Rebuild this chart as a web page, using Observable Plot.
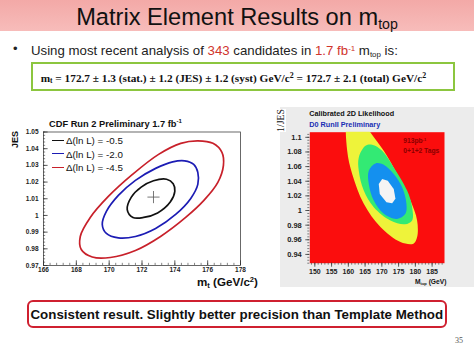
<!DOCTYPE html>
<html><head><meta charset="utf-8">
<script src="https://cdn.jsdelivr.net/npm/d3@7"></script>
<script src="https://cdn.jsdelivr.net/npm/@observablehq/plot@0.6"></script>
<style>
html,body{margin:0;padding:0;background:#fff;}
#slide{position:relative;width:474px;height:355px;overflow:hidden;background:#fff;font-family:"Liberation Sans",Arial,Helvetica,sans-serif;color:#111;}
#slide .t{position:absolute;white-space:nowrap;line-height:1;}
#slide .t sub,#slide .t sup{line-height:0;}
#slide .box{position:absolute;box-sizing:border-box;}
</style></head><body><div id="slide"></div>
<script>
// ---------- data: CDF (left) ----------
const cdfMtTicks = [166, 168, 170, 172, 174, 176, 178];
const cdfJesTicks = [0.97, 0.98, 0.99, 1, 1.01, 1.02, 1.03, 1.04, 1.05];
const cdfLevels = ["Δ(ln L) = -0.5", "Δ(ln L) = -2.0", "Δ(ln L) = -4.5"];
const cdfColors = ["#111111", "#1c1cb4", "#c8202a"];
const cdfBest = [172.7, 1.011];
const cdfContour05 = [[173.50,1.0217],[173.90,1.0190],[174.00,1.0145],[173.72,1.0080],[172.95,1.0015],[172.10,0.9988],[171.45,0.9988],[171.10,1.0035],[171.35,1.0110],[171.95,1.0170],[172.70,1.0208]];
const cdfContour20 = [[174.60,1.0327],[175.15,1.0306],[175.40,1.0258],[175.40,1.0186],[174.97,1.0102],[174.05,1.0006],[172.83,0.9922],[171.60,0.9874],[170.56,0.9865],[169.83,0.9892],[169.58,0.9946],[169.83,1.0024],[170.56,1.0120],[171.60,1.0210],[172.83,1.0282],[173.87,1.0321]];
const cdfContour45 = [[175.40,1.0447],[176.32,1.0432],[176.87,1.0378],[176.96,1.0300],[176.62,1.0198],[175.77,1.0090],[174.66,0.9988],[173.13,0.9874],[171.60,0.9790],[170.07,0.9748],[168.97,0.9751],[168.30,0.9796],[168.24,0.9874],[168.85,0.9988],[169.95,1.0114],[171.42,1.0246],[173.01,1.0366],[174.36,1.0432]];

// ---------- data: D0 (right) ----------
const d0MtTicks = [150, 155, 160, 165, 170, 175, 180, 185];
const d0JesTicks = [0.94, 0.96, 0.98, 1, 1.02, 1.04, 1.06, 1.08, 1.1];
const d0Yellow = [[159.66,1.1252],[159.66,1.0816],[161.15,1.0499],[164.61,1.0091],[169.59,0.9773],[175.55,0.9569],[179.43,0.9547],[180.53,0.9637],[180.53,0.9864],[178.53,1.0136],[174.57,1.0499],[170.57,1.0816],[166.61,1.1065],[164.22,1.1252],[161.50,1.1330]];
const d0Green = [[165.12,1.0884],[163.12,1.0725],[163.12,1.0544],[164.61,1.0272],[167.59,1.0045],[172.57,0.9864],[176.90,0.9812],[179.04,0.9864],[179.04,1.0045],[177.55,1.0272],[173.55,1.0589],[170.10,1.0816],[167.11,1.0898]];
const d0Blue = [[168.10,1.0644],[166.10,1.0544],[166.10,1.0363],[167.59,1.0136],[170.57,0.9955],[174.50,0.9885],[177.04,0.9955],[177.34,1.0091],[176.06,1.0317],[173.55,1.0499],[170.57,1.0626]];
const d0White = [[170.10,1.0431],[169.08,1.0363],[169.38,1.0227],[171.38,1.0113],[173.08,1.0099],[174.06,1.0159],[173.55,1.0295],[171.77,1.0408]];

// ---------- helpers ----------
const slide = document.getElementById("slide");
function box(css) { const d = document.createElement("div"); d.className = "box"; d.style.cssText += css; slide.appendChild(d); return d; }
function fitEl(el, width) {
  const w = el.getBoundingClientRect().width;
  const fs = parseFloat(getComputedStyle(el).fontSize);
  el.style.fontSize = (fs * width / w) + "px";
}
function text(html, css, {x, baseline, width, align = "left"}) {
  const el = document.createElement("div"); el.className = "t"; el.innerHTML = html; el.style.cssText += css;
  el.style.left = "0px"; el.style.top = "0px"; slide.appendChild(el);
  if (width) fitEl(el, width);
  const probe = document.createElement("span");
  probe.style.cssText = "display:inline-block;width:0;height:0;vertical-align:baseline;";
  el.appendChild(probe);
  const b = probe.getBoundingClientRect().top - el.getBoundingClientRect().top;
  el.removeChild(probe);
  const w = el.getBoundingClientRect().width;
  el.style.top = (baseline - b) + "px";
  el.style.left = (align === "center" ? x - w / 2 : align === "right" ? x - w : x) + "px";
  return el;
}
function vtext(html, css, {cx, top, length}) {
  const el = document.createElement("div"); el.className = "t"; el.innerHTML = html; el.style.cssText += css;
  el.style.left = "0px"; el.style.top = "0px"; slide.appendChild(el);
  if (length) fitEl(el, length);
  const r = el.getBoundingClientRect();
  el.style.transformOrigin = "0 0"; el.style.transform = "rotate(-90deg)";
  el.style.left = (cx - r.height / 2) + "px"; el.style.top = (top + r.width) + "px";
  return el;
}

// ---------- slide header ----------
box("left:0;top:0;width:474px;height:31px;background:linear-gradient(#f3a9a7,#f7bcba);");
text('Matrix Element Results on m<sub style="font-size:0.6em;vertical-align:-0.25em">top</sub>', "font-size:27px;color:#111;", {x: 237, baseline: 25, width: 322, align: "center"});
text("•", "font-size:13px;color:#222;", {x: 13, baseline: 53});
text('Using most recent analysis of <span style="color:#d0342c">343</span> candidates in <span style="color:#d0342c">1.7 fb<sup style="font-size:0.6em;vertical-align:0.55em">-1</sup></span> m<sub style="font-size:0.6em;vertical-align:-0.25em">top</sub> is:', "font-size:14px;color:#222;", {x: 31, baseline: 55, width: 367});
box("left:31px;top:62px;width:424px;height:29px;border:2px solid #8cc63f;background:#fff;");
text('m<sub style="font-size:0.65em;vertical-align:-0.2em">t</sub> = 172.7 ± 1.3 (stat.) ± 1.2 (JES) ± 1.2 (syst) GeV/c<sup style="font-size:0.7em;vertical-align:0.45em">2</sup> = 172.7 ± 2.1 (total) GeV/c<sup style="font-size:0.7em;vertical-align:0.45em">2</sup>', "font-family:'Liberation Serif','Times New Roman',serif;font-weight:bold;font-size:11px;color:#111;", {x: 40.7, baseline: 81.5, width: 386});

// ---------- left plot (CDF) ----------
const leftHolder = box("left:0px;top:100px;");
const leftPlot = Plot.plot({
  width: 270, height: 195,
  marginLeft: 43, marginRight: 30, marginTop: 31.5, marginBottom: 30,
  x: {domain: [166, 178], label: null},
  y: {domain: [0.97, 1.05], label: null},
  style: {background: "transparent", fontFamily: "'Liberation Sans', Arial, sans-serif", color: "#222"},
  marks: [
    Plot.frame({stroke: "#444", strokeWidth: 0.8}),
    Plot.ruleX(d3.range(166, 178.01, 0.4), {y1: 0.97, y2: 0.9713, stroke: "#333", strokeWidth: 0.6}),
    Plot.ruleX(cdfMtTicks, {y1: 0.97, y2: 0.9728, stroke: "#333", strokeWidth: 0.8}),
    Plot.ruleY(d3.range(0.97, 1.0501, 0.002), {x1: 166, x2: 166.13, stroke: "#333", strokeWidth: 0.6}),
    Plot.ruleY(cdfJesTicks, {x1: 166, x2: 166.28, stroke: "#333", strokeWidth: 0.8}),
    Plot.axisX(cdfMtTicks, {tickSize: 0, tickPadding: 2, fontSize: 6.5, fontWeight: "bold", label: null}),
    Plot.axisY(cdfJesTicks, {tickSize: 0, tickPadding: 5, fontSize: 6.5, fontWeight: "bold", label: null, tickFormat: d => String(d)}),
    Plot.line(cdfContour45, {x: d => d[0], y: d => d[1], curve: "catmull-rom-closed", stroke: cdfColors[2], strokeWidth: 1.7}),
    Plot.line(cdfContour20, {x: d => d[0], y: d => d[1], curve: "catmull-rom-closed", stroke: cdfColors[1], strokeWidth: 1.7}),
    Plot.line(cdfContour05, {x: d => d[0], y: d => d[1], curve: "catmull-rom-closed", stroke: cdfColors[0], strokeWidth: 1.7}),
    Plot.dot([cdfBest], {x: d => d[0], y: d => d[1], symbol: "plus", r: 4, stroke: "#555", strokeWidth: 0.8})
  ]
});
leftHolder.appendChild(leftPlot);

text('CDF Run 2 Preliminary 1.7 fb<sup style="font-size:0.65em;vertical-align:0.6em">-1</sup>', "font-weight:bold;font-size:10.5px;color:#111;", {x: 49, baseline: 127, width: 133});
[140.7, 154, 167.5].forEach((y, i) => {
  box(`left:51.5px;top:${y - 0.9}px;width:12px;height:0;border-top:1.8px solid ${cdfColors[i]};`);
  text(cdfLevels[i], "font-size:10px;color:#111;", {x: 66, baseline: y + 3.6, width: 57});
});
vtext("JES", "font-weight:bold;font-size:10px;color:#111;", {cx: 15, top: 131.5, length: 17});
text('m<sub style="font-size:0.65em;vertical-align:-0.3em">t</sub> (GeV/c<sup style="font-size:0.65em;vertical-align:0.55em">2</sup>)', "font-weight:bold;font-size:10.5px;color:#111;", {x: 197, baseline: 286, width: 61});

// ---------- right plot (D0) ----------
box("left:280px;top:107px;width:194px;height:180px;background:#ececec;");
const rightHolder = box("left:280px;top:107px;");
const rightPlot = Plot.plot({
  width: 194, height: 180,
  marginLeft: 29.3, marginRight: 30, marginTop: 24.7, marginBottom: 24.3,
  x: {domain: [148.5, 188.7], label: null},
  y: {domain: [0.928, 1.107], label: null},
  style: {background: "transparent", fontFamily: "'Liberation Sans', Arial, sans-serif", color: "#222"},
  marks: [
    Plot.frame({fill: "#fb0d0d", stroke: "none"}),
    Plot.line(d0Yellow, {x: d => d[0], y: d => d[1], curve: "catmull-rom-closed", fill: "#eef33a", stroke: "none", clip: true}),
    Plot.line(d0Green, {x: d => d[0], y: d => d[1], curve: "catmull-rom-closed", fill: "#33ea74", stroke: "none", clip: true}),
    Plot.line(d0Blue, {x: d => d[0], y: d => d[1], curve: "catmull-rom-closed", fill: "#1490ef", stroke: "none", clip: true}),
    Plot.line(d0White, {x: d => d[0], y: d => d[1], curve: "linear-closed", fill: "#f4f4f4", stroke: "none", clip: true}),
    Plot.axisX(d3.range(149, 188.5, 1), {tickSize: 2, fill: "none", stroke: "#333", strokeWidth: 0.6}),
    Plot.axisX(d0MtTicks, {tickSize: 4, tickPadding: 2, fontSize: 7, fontWeight: "bold", stroke: "#333", strokeWidth: 0.8, label: null}),
    Plot.axisY(d3.range(0.928, 1.1071, 0.004), {tickSize: 2, fill: "none", stroke: "#333", strokeWidth: 0.6}),
    Plot.axisY(d0JesTicks, {tickSize: 4, tickPadding: 4, fontSize: 7.5, fontWeight: "bold", stroke: "#333", strokeWidth: 0.8, label: null, tickFormat: d => String(d)})
  ]
});
rightHolder.appendChild(rightPlot);

vtext("1/JES", "font-family:'Liberation Serif','Times New Roman',serif;font-size:12px;color:#111;background:#fff;", {cx: 281, top: 109, length: 23});
text("Calibrated 2D Likelihood", "font-weight:bold;font-size:8.5px;color:#111;", {x: 309.3, baseline: 116, width: 85});
text("D0 RunII Preliminary", "font-weight:bold;font-size:8.5px;color:#1a2fb4;", {x: 309.3, baseline: 126.5, width: 71});
text('913pb<sup style="font-size:0.6em;vertical-align:0.6em">-1</sup>', "font-weight:bold;font-size:7px;color:#8a0000;", {x: 403.3, baseline: 142.5, width: 23});
text("0+1+2 Tags", "font-weight:bold;font-size:7px;color:#8a0000;", {x: 403.3, baseline: 152.5, width: 36});
text('M<sub style="font-size:0.6em;vertical-align:-0.3em">top</sub> (GeV)', "font-weight:bold;font-size:8px;color:#111;", {x: 415, baseline: 284, width: 31.5});

// ---------- bottom ----------
box("left:27px;top:299.5px;width:420px;height:28.5px;border:2px solid #cf2030;border-radius:6px;background:#fff;");
text("Consistent result. Slightly better precision than Template Method", "font-weight:bold;font-size:13px;color:#111;", {x: 236.8, baseline: 319, width: 413, align: "center"});
text("35", "font-family:'Liberation Serif','Times New Roman',serif;font-size:9px;color:#555;", {x: 455, baseline: 343, width: 8});
</script></body></html>
